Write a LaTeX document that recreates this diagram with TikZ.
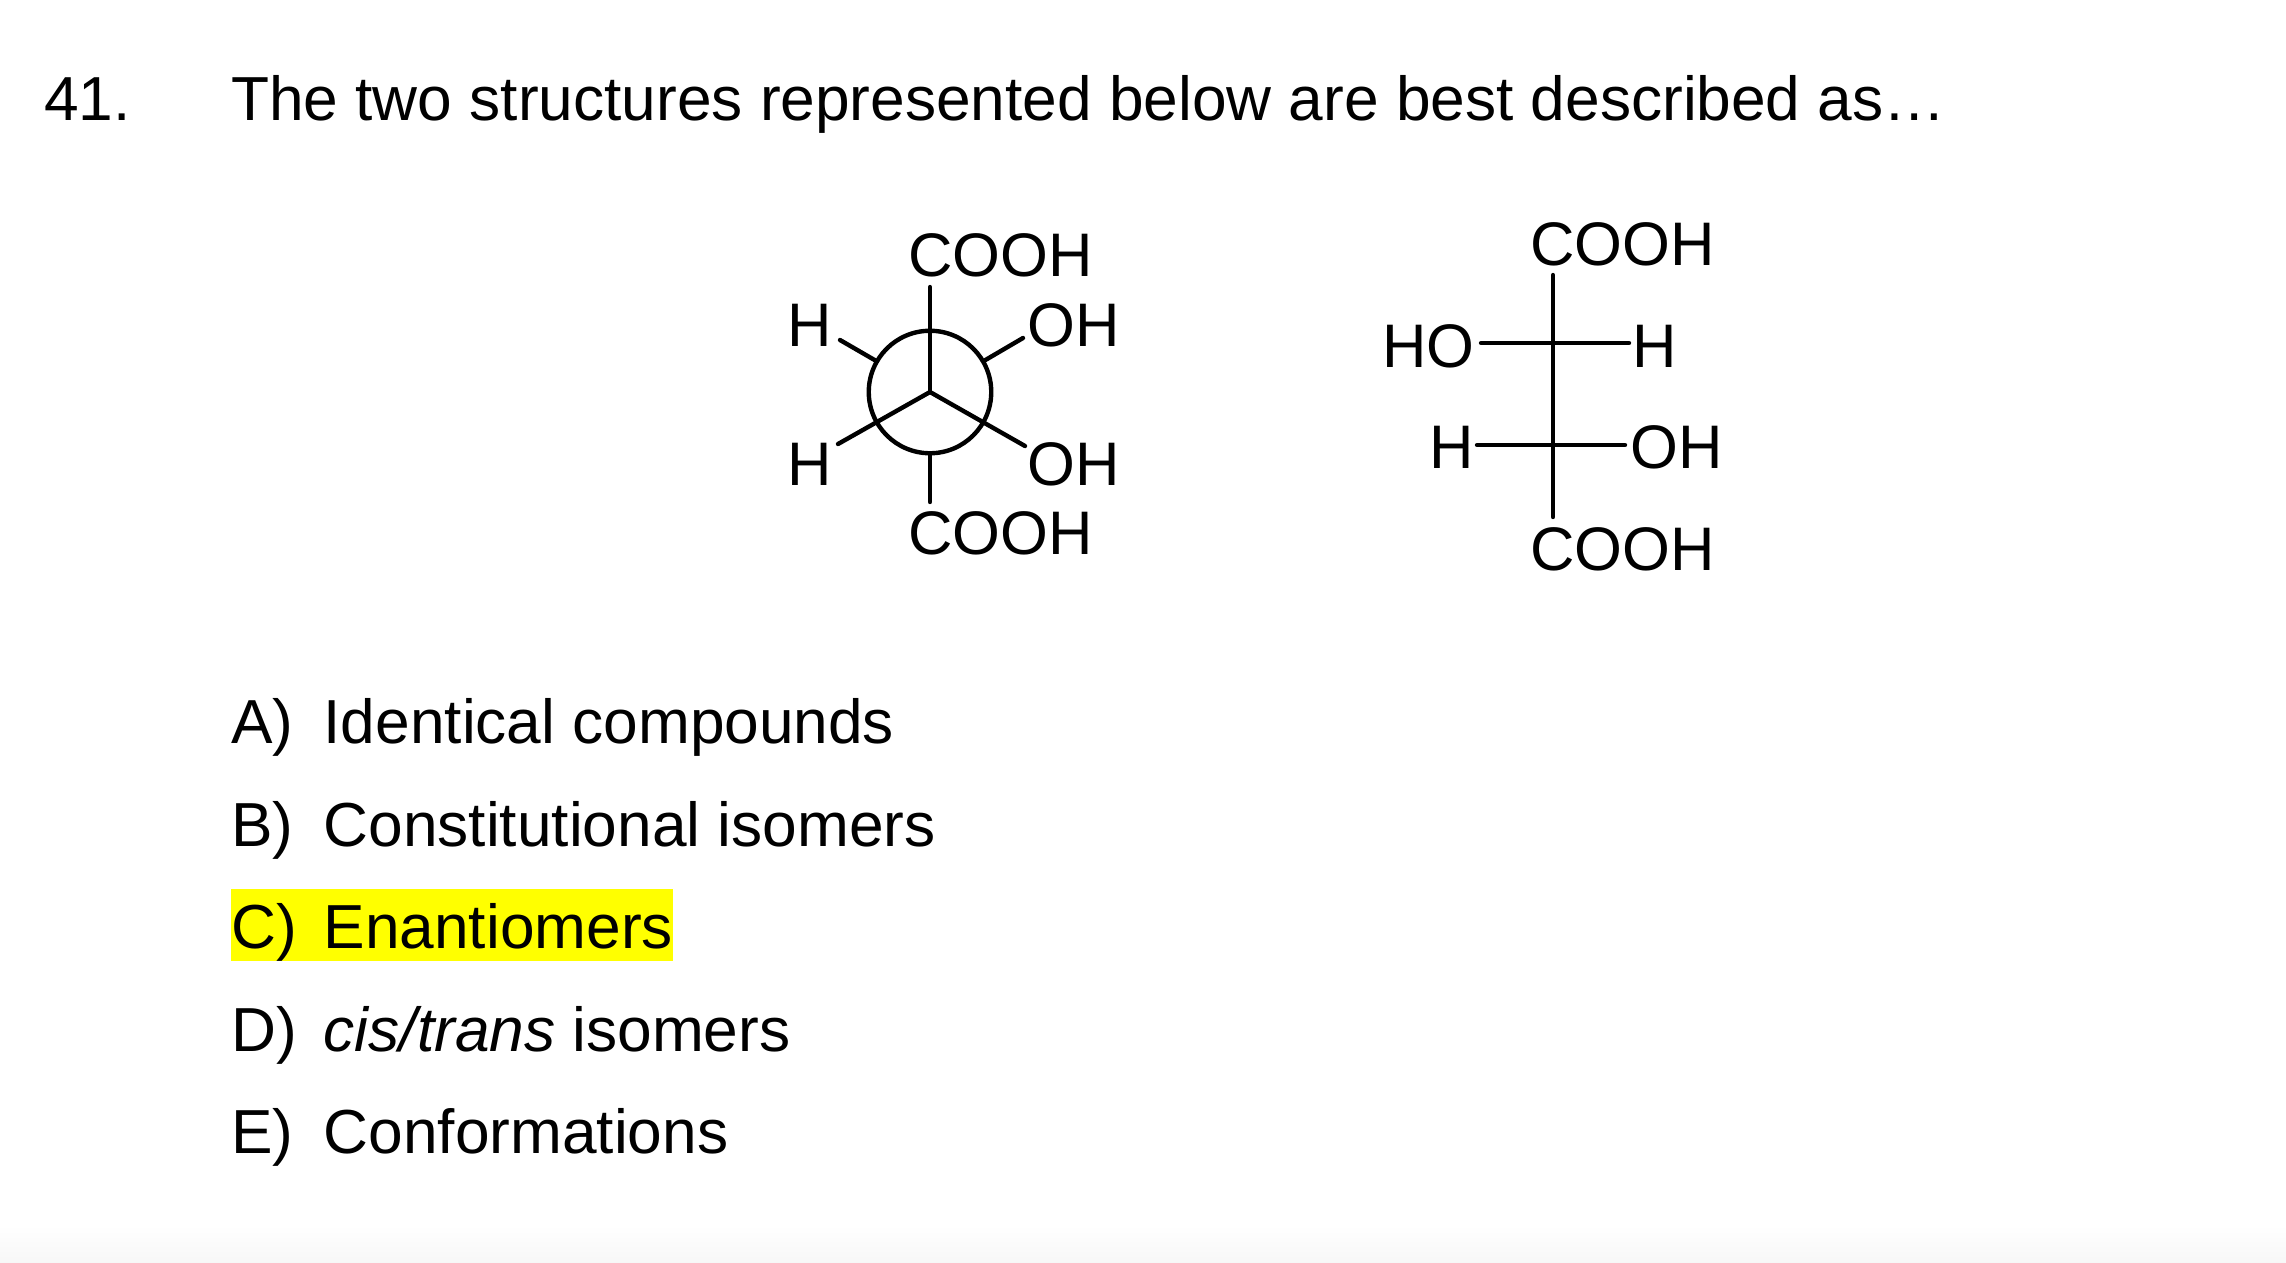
\documentclass[tikz,border=0pt]{standalone}
\usepackage{fontspec}
\setmainfont{Liberation Sans}
\usetikzlibrary{positioning}
\definecolor{hilite}{RGB}{255,255,0}
\tikzset{
    txt/.style={inner sep=0pt, anchor=base west, font=\fontsize{62.2}{70}\selectfont},
    chem/.style={inner sep=0pt, anchor=base west, font=\fontsize{61.5}{66}\selectfont},
    bond/.style={line width=4.4pt, line cap=round},
}
\begin{document}
\begin{tikzpicture}[x=1pt, y=-1pt]
        \useasboundingbox (0,0) rectangle (2286,1262);
        \shade [top color=white, bottom color=black!3] (0,1225) rectangle (2286,1262);
        \fill [hilite] (231,889) rectangle (673,961);
        % question
        \node [txt] (num) at (44,120) {41.};
        \node [txt] (ques) at (231,120) {The two structures represented below are best described as…};
        % newman
        \node [circle, draw, line width=4.4pt, minimum size=122.5pt, inner sep=0pt] (nm) at (930,392) {};
        \coordinate (nmc) at (930,392);
        \coordinate (nm1) at (930,287);
        \coordinate (nm2) at (1023,338);
        \coordinate (nm3) at (1025,446);
        \coordinate (nm4) at (930,502);
        \coordinate (nm5) at (838,444);
        \coordinate (nm6) at (840,340);
        \draw [bond] (nmc) to (nm1);
        \draw [bond] (nmc) to (nm3);
        \draw [bond] (nmc) to (nm5);
        \draw [bond] (nm.30) to (nm2);
        \draw [bond] (nm.270) to (nm4);
        \draw [bond] (nm.150) to (nm6);
        \node [chem] (nmtop) at (908,276) {COOH};
        \node [chem] (nmh1) at (787,346) {H};
        \node [chem] (nmoh1) at (1027,346) {OH};
        \node [chem] (nmh2) at (787,485) {H};
        \node [chem] (nmoh2) at (1027,485) {OH};
        \node [chem] (nmbot) at (908,554) {COOH};
        % fischer
        \coordinate (ft) at (1553,275);
        \coordinate (fd) at (1553,517);
        \coordinate (fl1) at (1481,343);
        \coordinate (fr1) at (1629,343);
        \coordinate (fl2) at (1477,445);
        \coordinate (fr2) at (1625,445);
        \draw [bond] (ft) to (fd);
        \draw [bond] (fl1) to (fr1);
        \draw [bond] (fl2) to (fr2);
        \node [chem] (ftop) at (1530,265) {COOH};
        \node [chem] (fho) at (1382,367) {HO};
        \node [chem] (fh1) at (1632,367) {H};
        \node [chem] (fh2) at (1429,468) {H};
        \node [chem] (foh) at (1630,468) {OH};
        \node [chem] (fbot) at (1530,570) {COOH};
        % answers
        \node [txt] (a) at (231,743) {A)};
        \node [txt] (at) at (323.5,743) {Identical compounds};
        \node [txt] (b) at (231,846) {B)};
        \node [txt] (bt) at (323.5,846) {Constitutional isomers};
        \node [txt] (c) at (231,948) {C)};
        \node [txt] (ct) at (323.5,948) {Enantiomers};
        \node [txt] (d) at (231,1051) {D)};
        \node [txt] (dt) at (323.5,1051) {\textit{cis/trans} isomers};
        \node [txt] (e) at (231,1153) {E)};
        \node [txt] (et) at (323.5,1153) {Conformations};
    \end{tikzpicture}
\end{document}
